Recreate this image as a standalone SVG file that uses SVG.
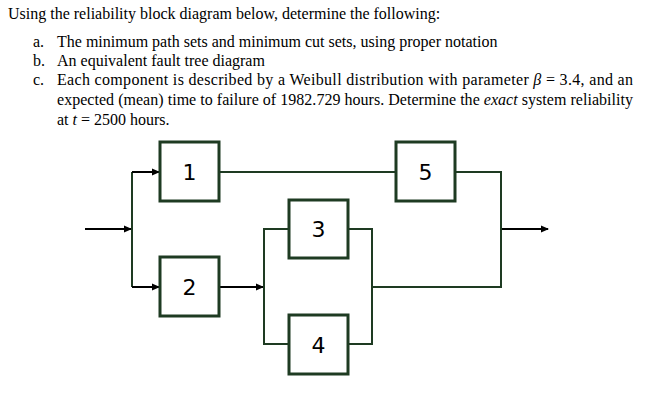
<svg xmlns="http://www.w3.org/2000/svg" width="651" height="410" viewBox="0 0 651 410">
<style>
text{font-family:"Liberation Serif",serif;font-size:16px;fill:#000}
.b rect{fill:#fff;stroke:#1e3b22;stroke-width:3}
.b text{font-family:"DejaVu Sans",sans-serif;font-size:22px;text-anchor:middle}
.c path{fill:none;stroke:#1e3b22;stroke-width:2}
.c .a{stroke:#000;marker-end:url(#ar)}
</style>
<defs><marker id="ar" markerWidth="8" markerHeight="8" refX="7" refY="4" orient="auto" markerUnits="userSpaceOnUse"><path d="M0,0.5 L8,4 L0,7.5z" fill="#000"/></marker></defs>
<text x="8" y="19">Using the reliability block diagram below, determine the following:</text>
<text x="33" y="47">a.</text><text x="57" y="47">The minimum path sets and minimum cut sets, using proper notation</text>
<text x="33" y="66">b.</text><text x="57" y="66">An equivalent fault tree diagram</text>
<text x="33" y="85">c.</text><text x="57" y="85" textLength="576" lengthAdjust="spacing">Each component is described by a Weibull distribution with parameter <tspan font-style="italic">β</tspan> = 3.4, and an</text>
<text x="57" y="105" textLength="576" lengthAdjust="spacing">expected (mean) time to failure of 1982.729 hours. Determine the <tspan font-style="italic">exact</tspan> system reliability</text>
<text x="57" y="125">at <tspan font-style="italic">t</tspan> = 2500 hours.</text>
<g class="c">
<path class="a" d="M85,229 H131"/>
<path d="M132,172 V287"/>
<path class="a" d="M132,172 H159"/>
<path class="a" d="M132,287 H159"/>
<path d="M219,172 H396"/>
<path d="M455,172 H501 V287 H372"/>
<path class="a" d="M219,287 H263"/>
<path d="M289,229 H264 V344 H289"/>
<path d="M348,229 H372 V344 H348"/>
<path class="a" d="M502,229 H548"/>
</g>
<g id="n1" class="b"><rect x="160" y="142" width="59" height="59"/><text x="189.5" y="180">1</text></g>
<g id="n2" class="b"><rect x="160" y="257" width="59" height="59"/><text x="189.5" y="295">2</text></g>
<g id="n3" class="b"><rect x="289" y="200" width="59" height="58"/><text x="318.5" y="237">3</text></g>
<g id="n4" class="b"><rect x="289" y="315" width="59" height="59"/><text x="318.5" y="353">4</text></g>
<g id="n5" class="b"><rect x="396" y="142" width="59" height="59"/><text x="425.5" y="180">5</text></g>
</svg>
